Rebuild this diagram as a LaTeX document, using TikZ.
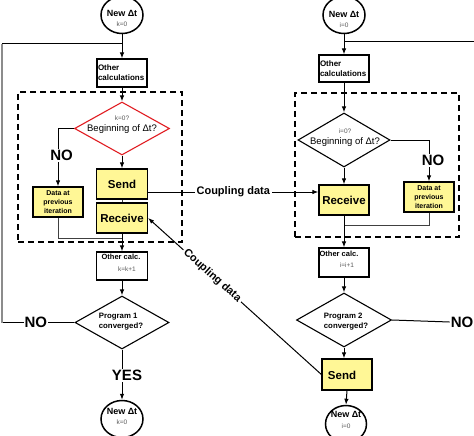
\documentclass[tikz,border=0pt]{standalone}
\usepackage{fontspec}
\setmainfont{Liberation Sans}
\usetikzlibrary{shapes.geometric,arrows.meta}
\definecolor{boxyellow}{RGB}{255,247,150}
\definecolor{dred}{RGB}{225,30,35}
\definecolor{sgray}{RGB}{90,90,90}
\tikzset{
 arr/.style={draw, line width=1pt, -{Latex[length=6pt,width=4.5pt]}},
 ln/.style={draw, line width=1pt},
 thinln/.style={draw, line width=0.7pt, black!75},
 grayln/.style={draw, line width=1.6pt, black!45},
 circ/.style={draw, ellipse, line width=1.5pt, fill=white, minimum width=42pt, minimum height=37pt, inner sep=0pt},
 pbox/.style={draw, line width=1.1pt, fill=white, minimum width=50pt, minimum height=28pt, inner sep=0pt},
 ybox/.style={draw, line width=1.2pt, fill=boxyellow, minimum width=51pt, minimum height=30pt, inner sep=0pt},
 dia/.style={draw, diamond, line width=1.1pt, fill=white, inner sep=0pt},
 grp/.style={draw, line width=1.4pt, dash pattern=on 6pt off 4pt, inner sep=0pt},
 fb/.style={font=\bfseries\fontsize{#1}{#1}\selectfont, inner sep=0.5pt},
 fr/.style={font=\fontsize{#1}{#1}\selectfont, inner sep=0.5pt},
 sm/.style={font=\fontsize{#1}{#1}\selectfont, text=sgray, inner sep=0.5pt},
 lbl/.style={font=\bfseries\fontsize{15}{15}\selectfont, fill=white, inner sep=1pt},
}
\begin{document}
\begin{tikzpicture}[x=1pt,y=-1pt]
\useasboundingbox (0,0) rectangle (474,436);
% groups
\node[grp, minimum width=164pt, minimum height=150pt] (g1) at (100,167) {};
\node[grp, minimum width=164pt, minimum height=144pt] (g2) at (377,165) {};
% left column shapes
\node[circ] (c1) at (122,15) {};
\coordinate (j1) at (122,44);
\coordinate (tl) at (2,44);
\coordinate (bl) at (2,322.5);
\coordinate (r1) at (122,238);
\node[pbox, font=\bfseries\fontsize{8}{10}\selectfont, text width=48pt, align=left, inner sep=1pt] (oc1) at (122,73) {Other\\calculations};
\node[dia, draw=dred, minimum width=95pt, minimum height=53pt] (d1) at (122,128.5) {};
\node[ybox, fb=11.5] (send1) at (122,184) {Send};
\node[ybox, fb=11.5] (recv1) at (122,218) {Receive};
\node[ybox, minimum width=50pt, font=\bfseries\fontsize{7}{9}\selectfont, align=center] (data1) at (58,202) {Data at\\previous\\iteration};
\node[pbox, minimum width=51pt] (ocalc1) at (122,266) {};
\node[dia, minimum width=94pt, minimum height=53pt] (p1) at (122,322.5) {};
\node[circ] (c1b) at (122,419) {};
% right column shapes
\node[circ] (c2) at (344,15) {};
\coordinate (j2) at (344,42);
\coordinate (tr) at (474,42);
\coordinate (r2) at (344,225);
\node[pbox, minimum height=27pt, font=\bfseries\fontsize{8}{10}\selectfont, text width=48pt, align=left, inner sep=1pt] (oc2) at (344,68.5) {Other\\calculations};
\node[dia, minimum width=92pt, minimum height=54pt] (d2) at (344,140) {};
\node[ybox, minimum width=50pt, fb=11.5] (recv2) at (344,200) {Receive};
\node[ybox, minimum width=50pt, font=\bfseries\fontsize{7}{9}\selectfont, align=center] (data2) at (429,197) {Data at\\previous\\iteration};
\node[pbox, minimum height=29pt] (ocalc2) at (344,262.5) {};
\node[dia, minimum width=95pt, minimum height=54pt] (p2) at (344,320) {};
\node[ybox, minimum width=50pt, minimum height=31pt] (send2) at (347,374.5) {};
\node[circ, minimum width=41pt] (c2b) at (346,424) {};
\node[lbl] (no3) at (462,322) {NO};
\coordinate (cy) at (0,192);
% left connectors
\draw[ln] (c1.south) -- (j1);
\draw[arr] (j1) -- (oc1.north);
\draw[arr] (oc1.south) -- (d1.north);
\draw[arr] (d1.south) -- (send1.north);
\draw[thinln] (send1.south) -- (recv1.north);
\draw[arr] (d1.west) -| node[lbl, pos=0.735, xshift=3.5pt] (no1) {NO} (data1.north);
\draw[thinln] (data1.south) |- (r1);
\draw[arr] (recv1.south) -- (ocalc1.north);
\draw[arr] (ocalc1.south) -- (p1.north);
\draw[ln] (p1.west) -- node[lbl, pos=0.534] (no0) {NO} (bl);
\draw[grayln] (bl) -- (tl);
\draw[ln] (tl) -- (j1);
\draw[arr] (p1.south) -- node[lbl, pos=0.52, xshift=5pt] (yes1) {YES} (c1b.north);
% right connectors
\draw[ln] (c2.south) -- (j2);
\draw[ln] (tr) -- (j2);
\draw[arr] (j2) -- (oc2.north);
\draw[arr] (oc2.south) -- (d2.north);
\draw[arr] (d2.south) -- (recv2.north);
\draw[arr] (d2.east) -| node[lbl, pos=0.75, xshift=4pt] (no2) {NO} (data2.north);
\draw[thinln] (data2.south) |- (r2);
\draw[arr] (recv2.south) -- (ocalc2.north);
\draw[arr] (ocalc2.south) -- (p2.north);
\draw[arr] (p2.south) -- (p2.south |- send2.north);
\draw[arr] (send2.south) -- (c2b.north);
\draw[ln] (p2.east) -- (no3.west);
% coupling
\draw[arr] (send1.east |- cy) -- node[fb=11, fill=white, inner xsep=2pt] (cd1) {Coupling data} (recv2.west |- cy);
\draw[arr] (send2.west) -- node[pos=0.63, rotate=-42, fb=11, fill=white, inner xsep=2pt] (cd2) {Coupling data} (recv1.east);
% texts left
\node[fb=9] (c1t) at (122,13) {New Δt};
\node[sm=6.5] (c1k) at (122,24.5) {k=0};
\node[sm=6.5] (d1k) at (122,118.5) {k=0?};
\node[fr=9.5] (d1t) at (122,129.5) {Beginning of Δt?};
\node[fb=7.5] (oc1a) at (121,257) {Other calc.};
\node[sm=6.5] (oc1b) at (127,269) {k=k+1};
\node[font=\bfseries\fontsize{7.8}{10}\selectfont, align=left, inner sep=0pt] (p1t) at (121,322) {Program 1\\converged?};
\node[fb=9] (c1bt) at (122,411) {New Δt};
\node[sm=6.5] (c1bk) at (122,422) {k=0};
% texts right
\node[fb=9] (c2t) at (344,14) {New Δt};
\node[sm=6.5] (c2k) at (344,25) {i=0};
\node[sm=6.5] (d2k) at (345,131.5) {i=0?};
\node[fr=9.5] (d2t) at (345,142) {Beginning of Δt?};
\node[fb=7.5] (oc2a) at (339,253.5) {Other calc.};
\node[sm=6.5] (oc2b) at (347,265) {i=i+1};
\node[font=\bfseries\fontsize{7.8}{10}\selectfont, align=left, inner sep=0pt] (p2t) at (346,322) {Program 2\\converged?};
\node[fb=11.5] (s2t) at (342,375) {Send};
\node[fb=9] (c2bt) at (346,414) {New Δt};
\node[sm=6.5] (c2bk) at (346,426) {i=0};
\end{tikzpicture}
\end{document}
